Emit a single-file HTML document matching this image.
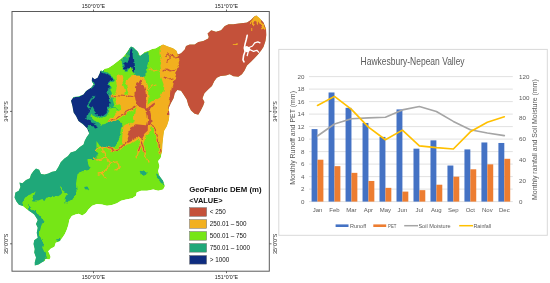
<!DOCTYPE html>
<html><head><meta charset="utf-8"><title>Hawkesbury-Nepean Valley</title>
<style>
html,body{margin:0;padding:0;background:#fff;}
svg{display:block;font-family:"Liberation Sans",sans-serif;}
</style></head><body>
<svg width="550" height="283" viewBox="0 0 550 283">
<rect width="550" height="283" fill="#fff"/>
<clipPath id="oc"><polygon points="71,100.8 73.6,97 78.5,96.6 83.5,94.6 86,91 91,87.7 93.4,84.5 91.7,81 92.2,77.3 94.6,79.3 97.6,77.8 99.6,73.5 100.8,70 102.7,71 104.5,68.7 108.2,68 113.2,64.8 118,61 123,57 126,53.3 128.5,49.6 131,46.6 133.5,47.6 136,50 138.4,52 139.7,55.8 142,54.5 144.6,52 148.3,50.8 152,49 155.8,48.3 159.5,45.9 163.2,44.6 168,46.6 173,48.3 176.5,50.8 177.8,54.5 181,53.3 184.7,49.6 186,45.9 189.7,44.6 194.6,44.6 198.3,42 203.3,41 208.2,38.5 208.7,36.7 207.5,33.5 211.2,30.3 216,31.8 221,30.3 224.8,26 228.5,24.3 233.4,24.3 238.4,23.6 243.3,22.9 247,22.4 250.8,19.9 254.5,16.2 256.4,15.4 259.4,17.9 263.5,22.4 266,28.8 266.3,35 265.5,41 263.5,47 261,50.8 258,54.5 254.5,58.2 250.8,62 247,65.6 244.6,70.6 242,74.3 238.4,76.8 233.4,76.3 229.7,74.3 226,75.5 220.6,76 216.9,77.7 214.4,81 212,85.9 208.2,89.6 204.5,93.3 202.5,98.2 204.5,102 203.3,105.6 200.8,110.6 198.3,114.8 194.6,113.8 191,110.6 188.4,105.6 186.7,99.5 183.5,94.5 181,90.8 177.3,90 174.8,93.3 173.6,98.2 171,103 168.7,108 169.4,114.3 168.9,119.8 166.9,126 164,131 163.2,137 162.4,144.5 162,152 160.7,158 158.2,161 159.5,166 158.2,171 159.5,176 163.2,181 165,185.9 163.2,189.6 158.2,190.8 153.3,189.6 147,190.8 141,190.8 136.7,192.5 136,195.8 132.3,198.2 126,199.5 121,200.7 117,203.2 112,205 107,205.7 102,204.4 97,204 92.2,205.7 88.4,209.4 86,213 82.3,215.5 78.5,213.8 75.5,214.5 71.8,216 69.4,219.7 68.5,224.6 66.9,229.6 64.9,234 62.4,237.7 59.5,241.4 55.8,242.7 54.5,246.8 50.7,248.7 48.2,251.3 49.5,253.8 50.7,257 49.5,259.5 45.6,258.9 45,260.8 42.5,262.1 38.6,264.6 34.8,265.5 34.7,262.5 36,257.5 34.2,252.6 34.7,248.9 33.5,244 34.2,240.2 37.7,237.7 36.7,232.8 37.7,227.8 36,224 37.7,220 34.2,214.4 30.4,211.8 26.5,209.3 22.7,206.1 18.9,204.8 16.4,201.6 14.5,197.4 15.4,192.5 18.7,190.7 20.4,187 19.4,182.5 22.4,183.3 26,180 29.8,178.3 31,174.6 33.5,171 36,168.4 39.2,169.7 41,174 44.6,174.6 48.3,173.4 52,171.7 55.8,171 58.2,167.2 60.7,162.3 64.4,158.5 68,156 70.6,152.4 75.5,151 79.8,147 83.5,144.5 84.7,140.8 86.7,137 89.2,133.4 87.2,128.4 83.5,124.7 78.5,121 76,116 73.6,112.4 72.4,106"/></clipPath>
<filter id="rg" x="0" y="0" width="280" height="283" filterUnits="userSpaceOnUse" color-interpolation-filters="sRGB"><feTurbulence type="fractalNoise" baseFrequency="0.16" numOctaves="2" seed="7" result="n"/><feDisplacementMap in="SourceGraphic" in2="n" scale="5" xChannelSelector="R" yChannelSelector="G"/></filter>
<g clip-path="url(#oc)">
<polygon points="71,100.8 73.6,97 78.5,96.6 83.5,94.6 86,91 91,87.7 93.4,84.5 91.7,81 92.2,77.3 94.6,79.3 97.6,77.8 99.6,73.5 100.8,70 102.7,71 104.5,68.7 108.2,68 113.2,64.8 118,61 123,57 126,53.3 128.5,49.6 131,46.6 133.5,47.6 136,50 138.4,52 139.7,55.8 142,54.5 144.6,52 148.3,50.8 152,49 155.8,48.3 159.5,45.9 163.2,44.6 168,46.6 173,48.3 176.5,50.8 177.8,54.5 181,53.3 184.7,49.6 186,45.9 189.7,44.6 194.6,44.6 198.3,42 203.3,41 208.2,38.5 208.7,36.7 207.5,33.5 211.2,30.3 216,31.8 221,30.3 224.8,26 228.5,24.3 233.4,24.3 238.4,23.6 243.3,22.9 247,22.4 250.8,19.9 254.5,16.2 256.4,15.4 259.4,17.9 263.5,22.4 266,28.8 266.3,35 265.5,41 263.5,47 261,50.8 258,54.5 254.5,58.2 250.8,62 247,65.6 244.6,70.6 242,74.3 238.4,76.8 233.4,76.3 229.7,74.3 226,75.5 220.6,76 216.9,77.7 214.4,81 212,85.9 208.2,89.6 204.5,93.3 202.5,98.2 204.5,102 203.3,105.6 200.8,110.6 198.3,114.8 194.6,113.8 191,110.6 188.4,105.6 186.7,99.5 183.5,94.5 181,90.8 177.3,90 174.8,93.3 173.6,98.2 171,103 168.7,108 169.4,114.3 168.9,119.8 166.9,126 164,131 163.2,137 162.4,144.5 162,152 160.7,158 158.2,161 159.5,166 158.2,171 159.5,176 163.2,181 165,185.9 163.2,189.6 158.2,190.8 153.3,189.6 147,190.8 141,190.8 136.7,192.5 136,195.8 132.3,198.2 126,199.5 121,200.7 117,203.2 112,205 107,205.7 102,204.4 97,204 92.2,205.7 88.4,209.4 86,213 82.3,215.5 78.5,213.8 75.5,214.5 71.8,216 69.4,219.7 68.5,224.6 66.9,229.6 64.9,234 62.4,237.7 59.5,241.4 55.8,242.7 54.5,246.8 50.7,248.7 48.2,251.3 49.5,253.8 50.7,257 49.5,259.5 45.6,258.9 45,260.8 42.5,262.1 38.6,264.6 34.8,265.5 34.7,262.5 36,257.5 34.2,252.6 34.7,248.9 33.5,244 34.2,240.2 37.7,237.7 36.7,232.8 37.7,227.8 36,224 37.7,220 34.2,214.4 30.4,211.8 26.5,209.3 22.7,206.1 18.9,204.8 16.4,201.6 14.5,197.4 15.4,192.5 18.7,190.7 20.4,187 19.4,182.5 22.4,183.3 26,180 29.8,178.3 31,174.6 33.5,171 36,168.4 39.2,169.7 41,174 44.6,174.6 48.3,173.4 52,171.7 55.8,171 58.2,167.2 60.7,162.3 64.4,158.5 68,156 70.6,152.4 75.5,151 79.8,147 83.5,144.5 84.7,140.8 86.7,137 89.2,133.4 87.2,128.4 83.5,124.7 78.5,121 76,116 73.6,112.4 72.4,106" fill="#76E616"/>
<g filter="url(#rg)">
<polygon points="96.5,140 93,144 89.3,144 87.4,149 84.8,152.9 87.4,155.5 89.3,158 87.4,160.5 88.6,164.4 90.5,167.5 88.6,170 84.2,170.7 80.4,171.4 77.8,173.9 77.2,177 76.5,180 76,185 76.5,190 76,195 73.6,199.1 69.8,200.4 67.3,203.5 65.4,202.3 66,197.8 67.9,194.6 66,192.1 63.5,190.2 60.9,186.4 59,185.7 60.9,188.3 62.2,192.7 60.3,195.3 57.1,197.2 53.3,196.5 49.5,197.2 46.3,197.8 44.4,201 41.2,199.1 37.4,200.4 33.5,200.4 32.9,197.8 34.8,194 35.5,190.2 34.2,191.5 30.4,194.6 25.9,195.9 23.4,197.8 24,201.6 22.7,206.1 10,207 10,140" fill="#1FA879"/>
<polygon points="70,85 104,85 108.5,87 111.5,92 112.8,100 114.5,106 118.5,109 121,116 122.5,125.4 120.5,135.6 116.5,143.3 110.9,148.3 100.7,147 96.5,141 96.5,160 60,160" fill="#1FA879"/>
<polygon points="112,108.5 115.5,107.5 121,111 125,116 127.5,124.5 123,123.5 118,121.5 113.5,118.5" fill="#76E616"/>
<polygon points="95,115 98,117 102,117.8 106.5,115 109,110.5 112,108 114.5,112 114,118 110.5,122 104,124.2 100,124.5 97,122 93,120.5 90.5,117.5 91.5,113.5" fill="#76E616"/>
<polygon points="127,50 131,46 134,46 138,50 140,55 143,54 146,52 149,55 149,62 147,68 148,73 144,77 139,78 136,76 133,70 130,64 127.5,57" fill="#1FA879"/>
<polygon points="123,58 127,56 129,62 130,68 127,71 123,69 121,64" fill="#1FA879"/>
<polygon points="28,205 38,214 43.4,220.4 41,227.8 39.7,232.8 41.7,237.7 43.4,242.7 42.2,247.6 44.6,252.6 47,257.5 44.6,261.2 40,266 30,268 30,240" fill="#1FA879"/>
<polygon points="86,93 86,89 91.4,88.8 94.5,85.6 92.4,81.3 90.5,77 94.5,75 99.8,73.5 100.9,71.8 106.2,73.9 110.4,77.1 113.6,79.2 110.4,82.4 107.3,85.6 110.4,87.7 106.2,90.9 102,93 95,93" fill="#1FA879" stroke="#1FA879" stroke-width="2.5" stroke-linejoin="round"/>
<polygon points="139.7,171 144,170.5 147,173 145,176 141,175" fill="#1FA879"/>
<polygon points="156,173.5 160,175 163.5,180 164.4,184.6 161,183 157.5,178" fill="#1FA879"/>
<polygon points="84.2,187 87,186.6 89.3,188 88,189.6 85,189.3" fill="#1FA879"/>
<polygon points="57,239.3 60,239 61,241 58.5,241.8" fill="#1FA879"/>
<polygon points="91.8,152 96,151.6 99.5,153 98,155.5 93,155" fill="#1FA879"/>
<polygon points="66,101 70.3,100.9 72.4,96.7 77.7,96.7 83,94.5 86.2,91.4 89.4,89.2 93.6,88.8 98.9,88.2 104.2,90.3 107.4,93.5 109.5,97.7 110.6,103 108.5,108.3 106.3,112.6 102.1,115.7 97.9,114.7 94.7,111.5 92.6,107.3 89.4,110.4 87.3,114.7 86.2,118.9 90.4,122.1 95.7,124.2 98.9,126.3 96.8,127.4 90.4,125.3 87.8,125 88.8,130.6 87,134.5 84,132 82,124 76,120 70,112" fill="#0E2C80"/>
<polygon points="86,93 86,89 91.4,88.8 94.5,85.6 92.4,81.3 90.5,77 94.5,75 99.8,73.5 100.9,71.8 106.2,73.9 110.4,77.1 113.6,79.2 110.4,82.4 107.3,85.6 110.4,87.7 106.2,90.9 102,93 95,93" fill="#0E2C80"/>
<polygon points="130.3,50 132.3,47.5 133.5,50.5 132.6,55 133,60 134,65 134,70 133,72.5 131.8,69.5 131.3,65.5 129.8,68 127.8,68.5 127,64.5 128.6,60 129.8,54.5" fill="#0E2C80"/>
<polygon points="123.2,63.5 125.5,62 128,63 128.5,66.5 126.5,69.7 124,69" fill="#0E2C80"/>
<path d="M93,96.5 L90.4,102 L87.6,106.2 L89.6,108.5 L92.6,110.5 L95,113.5" fill="none" stroke="#1FA879" stroke-width="1.4" stroke-linejoin="round" stroke-linecap="round"/>
<polygon points="162,40 161.5,46.4 160.4,52.7 161.5,59 159.4,65.4 160.4,71.8 161.5,78.2 163.6,84.5 162.6,90.9 160.4,97.2 156,100 153,103.5 152.5,108 155.5,120 158.5,133 160.5,145.8 161.5,153.4 164,156 175,156 185,120 185,40" fill="#F2B01E"/>
<polygon points="115.5,75 119,74.5 122,78 123,85 125,90 124,97 121,104 116.5,105 115,99 114.5,94 116,91 117,86 116,80" fill="#F2B01E"/>
<polygon points="122,96 134,92 136,108 128,112 118,119 110,123 109,119 116,114 121,108 120,102" fill="#F2B01E"/>
<polygon points="127,80 131,76.5 136,75.5 141,76 145,80 147,86 148,92 147,99 142,97 136,96 130,95 127.5,90 126,85" fill="#F2B01E"/>
<polygon points="149,104 154,102 157,110 158.5,120 160,134 156.5,137 153,131 152.5,121 151,112" fill="#F2B01E"/>
<polygon points="136,107 148,108 149.5,124 140,125 136,124.5 133.5,119 134.5,112" fill="#F2B01E"/>
<polygon points="140.7,78.5 142.5,82 144,86 145.6,92 146,98 145,104 147,107.5 150,106 153,103.5 155.5,101.5 156,103 153,106.5 150,110 150.8,115 151.5,121 149.5,126 147,126 148,121 147.5,115 146.5,110 142,109 139,107.5 137.5,104 135.5,100 134.5,94 135,88 137.5,84 139.5,80" fill="#F2B01E" stroke="#F2B01E" stroke-width="5" stroke-linejoin="round"/>
<polygon points="147.8,125.4 136.3,124.2 130,128 127.4,135.6 128.2,142 132.5,139.4 136.3,136.9 140.2,138.2 141.4,142 142.7,138 145.2,133 147.8,130.5" fill="#F2B01E" stroke="#F2B01E" stroke-width="5" stroke-linejoin="round"/>
<polygon points="123.5,126 128,123 131,124 128.5,130 127,136 127.5,143 125,146.5 122,143 122.5,134" fill="#F2B01E"/>
<path d="M134.5,96 L129.5,95 L125.8,96.5 L120,96 L115,95.5 L111,96" fill="none" stroke="#F2B01E" stroke-width="2.8" stroke-linejoin="round" stroke-linecap="round"/>
<path d="M137,106 L131,109.5 L124.6,113 L117,118 L110,121" fill="none" stroke="#F2B01E" stroke-width="2.8" stroke-linejoin="round" stroke-linecap="round"/>
<path d="M127.4,142 L123.6,145.8 L119.8,149.6 L114.7,150.9 L110.9,148.3 L107,147" fill="none" stroke="#F2B01E" stroke-width="2.8" stroke-linejoin="round" stroke-linecap="round"/>
<path d="M141.4,142 L144,151" fill="none" stroke="#F2B01E" stroke-width="2.8" stroke-linejoin="round" stroke-linecap="round"/>
<path d="M150.3,123 L155.4,130.5 L158,138 L159.2,145.8 L160,152" fill="none" stroke="#F2B01E" stroke-width="2.8" stroke-linejoin="round" stroke-linecap="round"/>
<path d="M140.2,146 L138.5,151" fill="none" stroke="#F2B01E" stroke-width="2.8" stroke-linejoin="round" stroke-linecap="round"/>
<path d="M107,147 L102,146.5 L98.2,147.8 L95.6,150.4 M102,146.5 L103.3,150.4 L105.8,154.2 L104.5,158 L100.7,159.3 L96.9,160 L94.4,158 M104.5,158 L108.4,160.5 L110.9,163 L116,161.8 L118.5,164.4 L119.2,168.2 L116,168.8 M110.9,163 L108.4,164.4 L107.7,168.2 L104.5,170.7 L102,173.3 L98.2,174 M102,173.3 L105.8,178.4" fill="none" stroke="#F2B01E" stroke-width="1.3" stroke-linejoin="round" stroke-linecap="round"/>
<path d="M158,70 L153,71 L150,69 M157,85 L152,86 L149,90 M155,112 L151,111" fill="none" stroke="#F2B01E" stroke-width="1.2" stroke-linejoin="round" stroke-linecap="round"/>
<path d="M144,151 L146.5,158.5 L149,162 M138.5,151 L137.6,154.7 L136,158" fill="none" stroke="#F2B01E" stroke-width="1.3" stroke-linejoin="round" stroke-linecap="round"/>
<polygon points="178,10 178,50 178.5,53.8 179.5,61.2 177.4,67.6 176.3,74 174.2,80.3 173.2,86.6 170.5,88.5 170,93 170.5,99 168.5,106 167.5,116 176,116 176,122 270,122 270,10" fill="#C4513A"/>
<polygon points="140.7,78.5 142.5,82 144,86 145.6,92 146,98 145,104 147,107.5 150,106 153,103.5 155.5,101.5 156,103 153,106.5 150,110 150.8,115 151.5,121 149.5,126 147,126 148,121 147.5,115 146.5,110 142,109 139,107.5 137.5,104 135.5,100 134.5,94 135,88 137.5,84 139.5,80" fill="#C4513A"/>
<polygon points="147.8,125.4 136.3,124.2 130,128 127.4,135.6 128.2,142 132.5,139.4 136.3,136.9 140.2,138.2 141.4,142 142.7,138 145.2,133 147.8,130.5" fill="#C4513A"/>
<path d="M134.5,96 L129.5,95 L125.8,96.5 L120,96 L115,95.5 L111,96" fill="none" stroke="#C4513A" stroke-width="1.1" stroke-linejoin="round" stroke-linecap="round"/>
<path d="M137,106 L131,109.5 L124.6,113 L117,118 L110,121" fill="none" stroke="#C4513A" stroke-width="1.1" stroke-linejoin="round" stroke-linecap="round"/>
<path d="M127.4,142 L123.6,145.8 L119.8,149.6 L114.7,150.9 L110.9,148.3 L107,147" fill="none" stroke="#C4513A" stroke-width="1.1" stroke-linejoin="round" stroke-linecap="round"/>
<path d="M141.4,142 L144,151" fill="none" stroke="#C4513A" stroke-width="1.1" stroke-linejoin="round" stroke-linecap="round"/>
<path d="M150.3,123 L155.4,130.5 L158,138 L159.2,145.8 L160,152" fill="none" stroke="#C4513A" stroke-width="1.1" stroke-linejoin="round" stroke-linecap="round"/>
<path d="M140.2,146 L138.5,151" fill="none" stroke="#C4513A" stroke-width="1.1" stroke-linejoin="round" stroke-linecap="round"/>
<path d="M178.5,56.5 L174.2,57 L170,55.9 L166.8,53.8 L164.7,55.9 M170,55.9 L170,59 L166.8,61.2" fill="none" stroke="#C4513A" stroke-width="1.2" stroke-linejoin="round" stroke-linecap="round"/>
<path d="M176,70 L171,71 L167,69 L164,71 M172,78 L167,79 L164,77" fill="none" stroke="#C4513A" stroke-width="1.2" stroke-linejoin="round" stroke-linecap="round"/>
<polygon points="249,23.5 252,20 256,14.5 259.5,17.5 262.5,21.5 266,28 262.5,29.5 261,25 258.5,22.5 257.5,26.5 255.5,21.5 253.5,25.5 252,22.5 250.5,25" fill="#F2B01E"/>
<polygon points="251,28.3 252.3,28.3 252.3,29.8 251,29.8" fill="#F2B01E"/>
<polygon points="233.8,44.2 235.5,44 237.5,43 237.8,44.6 235.5,46 233.8,45.8" fill="#F2B01E"/>
</g>
<path d="M247.2,35.4 L246.2,39.7 L245.1,43.9 L244.3,48.1 L245.1,51.3 L243.6,55.6 L243,59.8 L244,61.9" fill="none" stroke="#FFFFFF" stroke-width="1.6" stroke-linejoin="round" stroke-linecap="round"/>
<polygon points="244.6,46.5 247,46 249.5,47.5 250.6,49.5 249,51.8 246.5,52.2 244.6,50.5" fill="#FFFFFF"/>
<path d="M248,48 L252.5,46 L254.7,42.8 L257.8,41.8 L260,42.8 M249.5,49.5 L253.6,51.3 L256.8,50.3 L258.9,52.4 M248.3,51.3 L247.2,55.6" fill="none" stroke="#FFFFFF" stroke-width="1.3" stroke-linejoin="round" stroke-linecap="round"/>
</g>
<rect x="12" y="11.5" width="257.3" height="259.7" fill="none" stroke="#5a5a5a" stroke-width="1"/>
<line x1="93.5" y1="9.5" x2="93.5" y2="11.5" stroke="#333" stroke-width="0.7"/>
<line x1="93.5" y1="271.2" x2="93.5" y2="273.2" stroke="#333" stroke-width="0.7"/>
<line x1="226.5" y1="9.5" x2="226.5" y2="11.5" stroke="#333" stroke-width="0.7"/>
<line x1="226.5" y1="271.2" x2="226.5" y2="273.2" stroke="#333" stroke-width="0.7"/>
<line x1="10" y1="111.4" x2="12" y2="111.4" stroke="#333" stroke-width="0.7"/>
<line x1="269.5" y1="111.4" x2="271.5" y2="111.4" stroke="#333" stroke-width="0.7"/>
<line x1="10" y1="243.8" x2="12" y2="243.8" stroke="#333" stroke-width="0.7"/>
<line x1="269.5" y1="243.8" x2="271.5" y2="243.8" stroke="#333" stroke-width="0.7"/>
<text x="93.5" y="7.9" font-size="5.2" fill="#222" text-anchor="middle" textLength="23.3" lengthAdjust="spacingAndGlyphs">150°0'0&quot;E</text>
<text x="93.5" y="278.9" font-size="5.2" fill="#222" text-anchor="middle" textLength="23.3" lengthAdjust="spacingAndGlyphs">150°0'0&quot;E</text>
<text x="226.5" y="7.9" font-size="5.2" fill="#222" text-anchor="middle" textLength="23.3" lengthAdjust="spacingAndGlyphs">151°0'0&quot;E</text>
<text x="226.5" y="278.9" font-size="5.2" fill="#222" text-anchor="middle" textLength="23.3" lengthAdjust="spacingAndGlyphs">151°0'0&quot;E</text>
<text transform="translate(7.9,111.4) rotate(-90)" font-size="5.2" fill="#222" text-anchor="middle" textLength="20.5" lengthAdjust="spacingAndGlyphs">34°0'0&quot;S</text>
<text transform="translate(277,111.4) rotate(-90)" font-size="5.2" fill="#222" text-anchor="middle" textLength="20.5" lengthAdjust="spacingAndGlyphs">34°0'0&quot;S</text>
<text transform="translate(7.9,243.8) rotate(-90)" font-size="5.2" fill="#222" text-anchor="middle" textLength="20.5" lengthAdjust="spacingAndGlyphs">35°0'0&quot;S</text>
<text transform="translate(277,243.8) rotate(-90)" font-size="5.2" fill="#222" text-anchor="middle" textLength="20.5" lengthAdjust="spacingAndGlyphs">35°0'0&quot;S</text>
<text x="189.2" y="192" font-size="7.4" font-weight="bold" fill="#111" textLength="72.4" lengthAdjust="spacingAndGlyphs">GeoFabric DEM (m)</text>
<text x="189.2" y="202.8" font-size="7" font-weight="bold" fill="#111" textLength="33.3" lengthAdjust="spacingAndGlyphs">&lt;VALUE&gt;</text>
<rect x="189.6" y="207.70" width="17" height="8.6" fill="#C4513A" stroke="#6b6b6b" stroke-width="0.5"/>
<text x="209.8" y="214.30" font-size="6.3" fill="#111">&lt; 250</text>
<rect x="189.6" y="219.65" width="17" height="8.6" fill="#F2B01E" stroke="#6b6b6b" stroke-width="0.5"/>
<text x="209.8" y="226.25" font-size="6.3" fill="#111">250.01 – 500</text>
<rect x="189.6" y="231.60" width="17" height="8.6" fill="#76E616" stroke="#6b6b6b" stroke-width="0.5"/>
<text x="209.8" y="238.20" font-size="6.3" fill="#111">500.01 – 750</text>
<rect x="189.6" y="243.55" width="17" height="8.6" fill="#1FA879" stroke="#6b6b6b" stroke-width="0.5"/>
<text x="209.8" y="250.15" font-size="6.3" fill="#111">750.01 – 1000</text>
<rect x="189.6" y="255.50" width="17" height="8.6" fill="#0E2C80" stroke="#6b6b6b" stroke-width="0.5"/>
<text x="209.8" y="262.10" font-size="6.3" fill="#111">&gt; 1000</text>
<rect x="278.8" y="49.4" width="268.5" height="185.9" fill="#fff" stroke="#D9D9D9" stroke-width="1"/>
<line x1="309.0" y1="201.60" x2="512.8" y2="201.60" stroke="#D9D9D9" stroke-width="0.8"/>
<text x="304.5" y="203.80" font-size="6.2" fill="#595959" text-anchor="end">0</text>
<line x1="309.0" y1="189.10" x2="512.8" y2="189.10" stroke="#D9D9D9" stroke-width="0.8"/>
<text x="304.5" y="191.30" font-size="6.2" fill="#595959" text-anchor="end">2</text>
<line x1="309.0" y1="176.60" x2="512.8" y2="176.60" stroke="#D9D9D9" stroke-width="0.8"/>
<text x="304.5" y="178.80" font-size="6.2" fill="#595959" text-anchor="end">4</text>
<line x1="309.0" y1="164.10" x2="512.8" y2="164.10" stroke="#D9D9D9" stroke-width="0.8"/>
<text x="304.5" y="166.30" font-size="6.2" fill="#595959" text-anchor="end">6</text>
<line x1="309.0" y1="151.60" x2="512.8" y2="151.60" stroke="#D9D9D9" stroke-width="0.8"/>
<text x="304.5" y="153.80" font-size="6.2" fill="#595959" text-anchor="end">8</text>
<line x1="309.0" y1="139.10" x2="512.8" y2="139.10" stroke="#D9D9D9" stroke-width="0.8"/>
<text x="304.5" y="141.30" font-size="6.2" fill="#595959" text-anchor="end">10</text>
<line x1="309.0" y1="126.60" x2="512.8" y2="126.60" stroke="#D9D9D9" stroke-width="0.8"/>
<text x="304.5" y="128.80" font-size="6.2" fill="#595959" text-anchor="end">12</text>
<line x1="309.0" y1="114.10" x2="512.8" y2="114.10" stroke="#D9D9D9" stroke-width="0.8"/>
<text x="304.5" y="116.30" font-size="6.2" fill="#595959" text-anchor="end">14</text>
<line x1="309.0" y1="101.60" x2="512.8" y2="101.60" stroke="#D9D9D9" stroke-width="0.8"/>
<text x="304.5" y="103.80" font-size="6.2" fill="#595959" text-anchor="end">16</text>
<line x1="309.0" y1="89.10" x2="512.8" y2="89.10" stroke="#D9D9D9" stroke-width="0.8"/>
<text x="304.5" y="91.30" font-size="6.2" fill="#595959" text-anchor="end">18</text>
<line x1="309.0" y1="76.60" x2="512.8" y2="76.60" stroke="#D9D9D9" stroke-width="0.8"/>
<text x="304.5" y="78.80" font-size="6.2" fill="#595959" text-anchor="end">20</text>
<text x="519" y="203.80" font-size="6.2" fill="#595959">0</text>
<text x="519" y="182.97" font-size="6.2" fill="#595959">20</text>
<text x="519" y="162.13" font-size="6.2" fill="#595959">40</text>
<text x="519" y="141.30" font-size="6.2" fill="#595959">60</text>
<text x="519" y="120.47" font-size="6.2" fill="#595959">80</text>
<text x="519" y="99.63" font-size="6.2" fill="#595959">100</text>
<text x="519" y="78.80" font-size="6.2" fill="#595959">120</text>
<rect x="311.59" y="129.10" width="5.90" height="72.50" fill="#4472C4"/>
<rect x="317.49" y="159.72" width="5.90" height="41.88" fill="#ED7D31"/>
<text x="317.49" y="212.1" font-size="6" fill="#595959" text-anchor="middle">Jan</text>
<rect x="328.58" y="92.47" width="5.90" height="109.12" fill="#4472C4"/>
<rect x="334.48" y="166.16" width="5.90" height="35.44" fill="#ED7D31"/>
<text x="334.48" y="212.1" font-size="6" fill="#595959" text-anchor="middle">Feb</text>
<rect x="345.56" y="107.85" width="5.90" height="93.75" fill="#4472C4"/>
<rect x="351.46" y="172.85" width="5.90" height="28.75" fill="#ED7D31"/>
<text x="351.46" y="212.1" font-size="6" fill="#595959" text-anchor="middle">Mar</text>
<rect x="362.54" y="122.97" width="5.90" height="78.62" fill="#4472C4"/>
<rect x="368.44" y="180.97" width="5.90" height="20.62" fill="#ED7D31"/>
<text x="368.44" y="212.1" font-size="6" fill="#595959" text-anchor="middle">Apr</text>
<rect x="379.52" y="136.91" width="5.90" height="64.69" fill="#4472C4"/>
<rect x="385.42" y="187.85" width="5.90" height="13.75" fill="#ED7D31"/>
<text x="385.42" y="212.1" font-size="6" fill="#595959" text-anchor="middle">May</text>
<rect x="396.51" y="109.41" width="5.90" height="92.19" fill="#4472C4"/>
<rect x="402.41" y="191.60" width="5.90" height="10.00" fill="#ED7D31"/>
<text x="402.41" y="212.1" font-size="6" fill="#595959" text-anchor="middle">Jun</text>
<rect x="413.49" y="148.66" width="5.90" height="52.94" fill="#4472C4"/>
<rect x="419.39" y="190.16" width="5.90" height="11.44" fill="#ED7D31"/>
<text x="419.39" y="212.1" font-size="6" fill="#595959" text-anchor="middle">Jul</text>
<rect x="430.48" y="140.35" width="5.90" height="61.25" fill="#4472C4"/>
<rect x="436.38" y="184.72" width="5.90" height="16.88" fill="#ED7D31"/>
<text x="436.38" y="212.1" font-size="6" fill="#595959" text-anchor="middle">Aug</text>
<rect x="447.46" y="165.54" width="5.90" height="36.06" fill="#4472C4"/>
<rect x="453.36" y="176.72" width="5.90" height="24.88" fill="#ED7D31"/>
<text x="453.36" y="212.1" font-size="6" fill="#595959" text-anchor="middle">Sep</text>
<rect x="464.44" y="149.41" width="5.90" height="52.19" fill="#4472C4"/>
<rect x="470.34" y="169.29" width="5.90" height="32.31" fill="#ED7D31"/>
<text x="470.34" y="212.1" font-size="6" fill="#595959" text-anchor="middle">Oct</text>
<rect x="481.42" y="142.47" width="5.90" height="59.12" fill="#4472C4"/>
<rect x="487.32" y="164.35" width="5.90" height="37.25" fill="#ED7D31"/>
<text x="487.32" y="212.1" font-size="6" fill="#595959" text-anchor="middle">Nov</text>
<rect x="498.41" y="142.97" width="5.90" height="58.62" fill="#4472C4"/>
<rect x="504.31" y="158.79" width="5.90" height="42.81" fill="#ED7D31"/>
<text x="504.31" y="212.1" font-size="6" fill="#595959" text-anchor="middle">Dec</text>
<polyline points="317.49,135.97 334.48,124.00 351.46,118.79 368.44,117.85 385.42,117.22 402.41,109.93 419.39,106.50 436.38,111.50 453.36,121.39 470.34,129.72 487.32,132.95 504.31,135.56" fill="none" stroke="#A5A5A5" stroke-width="1.65" stroke-linejoin="round" stroke-linecap="round"/>
<polyline points="317.49,105.45 334.48,96.39 351.46,109.41 368.44,127.12 385.42,139.72 402.41,130.14 419.39,145.87 436.38,147.64 453.36,149.00 470.34,131.81 487.32,122.22 504.31,116.81" fill="none" stroke="#FFC000" stroke-width="1.65" stroke-linejoin="round" stroke-linecap="round"/>
<text x="412.6" y="65.2" font-size="10.2" fill="#595959" text-anchor="middle" textLength="104" lengthAdjust="spacingAndGlyphs">Hawkesbury-Nepean Valley</text>
<text transform="translate(294.7,137.9) rotate(-90)" font-size="7" fill="#595959" text-anchor="middle" textLength="93.7" lengthAdjust="spacingAndGlyphs">Monthly Runoff and PET (mm)</text>
<text transform="translate(537,139.6) rotate(-90)" font-size="7" fill="#595959" text-anchor="middle" textLength="120.8" lengthAdjust="spacingAndGlyphs">Monthly rainfall and Soil Moisture (mm)</text>
<rect x="335.6" y="224.4" width="12.9" height="2.6" fill="#4472C4"/>
<text x="350" y="228" font-size="6.2" fill="#595959" textLength="16.1" lengthAdjust="spacingAndGlyphs">Runoff</text>
<rect x="373.3" y="224.4" width="12.9" height="2.6" fill="#ED7D31"/>
<text x="388" y="228" font-size="6.2" fill="#595959" textLength="8.4" lengthAdjust="spacingAndGlyphs">PET</text>
<line x1="404.2" y1="225.7" x2="418" y2="225.7" stroke="#A5A5A5" stroke-width="1.5"/>
<text x="418.4" y="228" font-size="6.2" fill="#595959" textLength="32.2" lengthAdjust="spacingAndGlyphs">Soil Moisture</text>
<line x1="459.2" y1="225.7" x2="473" y2="225.7" stroke="#FFC000" stroke-width="1.5"/>
<text x="473.4" y="228" font-size="6.2" fill="#595959" textLength="17.8" lengthAdjust="spacingAndGlyphs">Rainfall</text>
</svg>
</body></html>
